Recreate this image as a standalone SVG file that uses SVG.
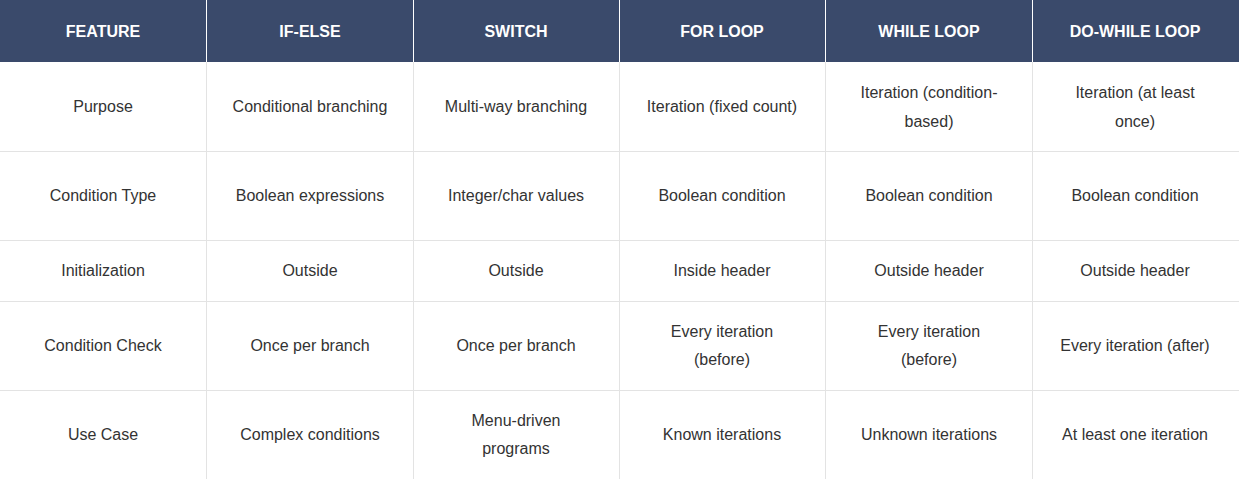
<svg xmlns="http://www.w3.org/2000/svg" width="1239" height="479" viewBox="0 0 1239 479">
<style>
.h{font-family:"Liberation Sans",Arial,sans-serif;font-weight:bold;font-size:16px;fill:#fff;text-anchor:middle}
.t{font-family:"Liberation Sans",Arial,sans-serif;font-size:16px;fill:#333;text-anchor:middle}
.g{stroke:#e3e3e3;stroke-width:1}
.hg{stroke:#fff;stroke-width:1}
</style>
<rect width="1239" height="479" fill="#fff"/>
<rect width="1239" height="62" fill="#3a4a6b"/>
<g id="grid">
<line class="hg" x1="206.5" y1="0" x2="206.5" y2="62"/><line class="hg" x1="413.5" y1="0" x2="413.5" y2="62"/><line class="hg" x1="619.5" y1="0" x2="619.5" y2="62"/><line class="hg" x1="825.5" y1="0" x2="825.5" y2="62"/><line class="hg" x1="1032.5" y1="0" x2="1032.5" y2="62"/>
<line class="g" x1="206.5" y1="62" x2="206.5" y2="479"/><line class="g" x1="413.5" y1="62" x2="413.5" y2="479"/><line class="g" x1="619.5" y1="62" x2="619.5" y2="479"/><line class="g" x1="825.5" y1="62" x2="825.5" y2="479"/><line class="g" x1="1032.5" y1="62" x2="1032.5" y2="479"/>
<line class="g" x1="0" y1="151.5" x2="1239" y2="151.5"/><line class="g" x1="0" y1="240.5" x2="1239" y2="240.5"/><line class="g" x1="0" y1="301.5" x2="1239" y2="301.5"/><line class="g" x1="0" y1="390.5" x2="1239" y2="390.5"/>
</g>
<g id="header">
<text class="h" x="103" y="37">FEATURE</text><text class="h" x="310" y="37">IF-ELSE</text><text class="h" x="516" y="37">SWITCH</text><text class="h" x="722" y="37">FOR LOOP</text><text class="h" x="929" y="37">WHILE LOOP</text><text class="h" x="1135" y="37">DO-WHILE LOOP</text>
</g>
<g id="row1">
<text class="t" x="103" y="112">Purpose</text><text class="t" x="310" y="112">Conditional branching</text><text class="t" x="516" y="112">Multi-way branching</text><text class="t" x="722" y="112">Iteration (fixed count)</text><text class="t" x="929" y="98">Iteration (condition-</text><text class="t" x="929" y="127">based)</text><text class="t" x="1135" y="98">Iteration (at least</text><text class="t" x="1135" y="127">once)</text>
</g>
<g id="row2">
<text class="t" x="103" y="201">Condition Type</text><text class="t" x="310" y="201">Boolean expressions</text><text class="t" x="516" y="201">Integer/char values</text><text class="t" x="722" y="201">Boolean condition</text><text class="t" x="929" y="201">Boolean condition</text><text class="t" x="1135" y="201">Boolean condition</text>
</g>
<g id="row3">
<text class="t" x="103" y="276">Initialization</text><text class="t" x="310" y="276">Outside</text><text class="t" x="516" y="276">Outside</text><text class="t" x="722" y="276">Inside header</text><text class="t" x="929" y="276">Outside header</text><text class="t" x="1135" y="276">Outside header</text>
</g>
<g id="row4">
<text class="t" x="103" y="351">Condition Check</text><text class="t" x="310" y="351">Once per branch</text><text class="t" x="516" y="351">Once per branch</text><text class="t" x="722" y="337">Every iteration</text><text class="t" x="722" y="365">(before)</text><text class="t" x="929" y="337">Every iteration</text><text class="t" x="929" y="365">(before)</text><text class="t" x="1135" y="351">Every iteration (after)</text>
</g>
<g id="row5">
<text class="t" x="103" y="440">Use Case</text><text class="t" x="310" y="440">Complex conditions</text><text class="t" x="516" y="426">Menu-driven</text><text class="t" x="516" y="454">programs</text><text class="t" x="722" y="440">Known iterations</text><text class="t" x="929" y="440">Unknown iterations</text><text class="t" x="1135" y="440">At least one iteration</text>
</g>
</svg>
